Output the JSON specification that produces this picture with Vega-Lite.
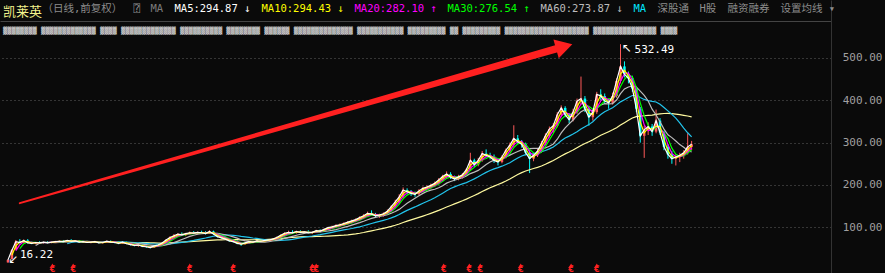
{
"$schema":"https://vega.github.io/schema/vega-lite/v6.json",
"width":831,"height":273,
"autosize":{"type":"pad"},
"padding":{"left":0,"top":0,"right":3,"bottom":0},
"background":"#0a0a0a",
"config":{"view":{"stroke":null}},
"title":{"text":"凯莱英","subtitle":"▓▓▓▓▓▓▓▓ ▓▓▓▓▓▓▓▓▓▓▓▓▓ ▓▓▓▓ ▓▓▓▓▓▓▓▓▓▓▓▓▓ ▓▓▓▓▓▓▓▓▓▓ ▓▓▓▓▓▓▓▓ ▓▓▓▓▓▓ ▓▓▓▓▓▓▓▓▓▓▓▓▓▓ ▓▓▓▓▓▓▓▓▓▓▓ ▓▓▓▓▓▓▓▓▓ ▓▓ ▓▓▓▓▓▓▓▓▓ ▓▓▓▓▓▓▓▓▓▓▓▓▓▓▓▓▓▓▓▓ ▓▓▓▓▓▓▓▓▓▓▓▓▓▓▓ ▓▓▓▓",
 "anchor":"start","frame":"group","orient":"top","offset":-34,"fontSize":13,"font":"Noto Sans CJK SC","color":"#f2f28c","fontWeight":"normal",
 "subtitleFontSize":7,"subtitleColor":"#c8c8c8","subtitleFont":"DejaVu Sans Mono","subtitleFontWeight":"normal","subtitlePadding":8,"dx":3},
"datasets":{
"k":[
{"d":0,"o":17,"h":24,"l":16.22,"c":23},{"d":1,"o":25,"h":48,"l":24,"c":46},{"d":2,"o":48,"h":70,"l":46,"c":66},{"d":3,"o":66,"h":72,"l":62,"c":64},{"d":4,"o":64,"h":71,"l":63,"c":69},{"d":5,"o":69,"h":72,"l":62,"c":63},{"d":6,"o":63,"h":66,"l":60,"c":62},{"d":7,"o":62,"h":65,"l":60,"c":64},{"d":8,"o":64,"h":67,"l":62,"c":63},{"d":9,"o":63,"h":66,"l":61,"c":65},
{"d":10,"o":65,"h":67,"l":62,"c":63},{"d":11,"o":63,"h":66,"l":62,"c":65},{"d":12,"o":65,"h":68,"l":63,"c":66},{"d":13,"o":66,"h":69,"l":64,"c":67},{"d":14,"o":67,"h":70,"l":65,"c":66},{"d":15,"o":66,"h":70,"l":65,"c":69},{"d":16,"o":69,"h":72,"l":66,"c":67},{"d":17,"o":67,"h":70,"l":65,"c":68},{"d":18,"o":68,"h":70,"l":64,"c":65},{"d":19,"o":65,"h":68,"l":63,"c":66},
{"d":20,"o":66,"h":68,"l":63,"c":64},{"d":21,"o":64,"h":67,"l":62,"c":65},{"d":22,"o":65,"h":68,"l":63,"c":66},{"d":23,"o":66,"h":67,"l":62,"c":63},{"d":24,"o":63,"h":66,"l":61,"c":64},{"d":25,"o":64,"h":68,"l":63,"c":67},{"d":26,"o":67,"h":69,"l":64,"c":65},{"d":27,"o":65,"h":67,"l":62,"c":64},{"d":28,"o":64,"h":66,"l":60,"c":62},{"d":29,"o":62,"h":67,"l":61,"c":65},
{"d":30,"o":65,"h":66,"l":60,"c":61},{"d":31,"o":61,"h":63,"l":57,"c":59},{"d":32,"o":59,"h":61,"l":55,"c":57},{"d":33,"o":57,"h":60,"l":54,"c":58},{"d":34,"o":58,"h":59,"l":53,"c":55},{"d":35,"o":55,"h":57,"l":51,"c":54},{"d":36,"o":54,"h":56,"l":50,"c":52},{"d":37,"o":52,"h":57,"l":51,"c":56},{"d":38,"o":56,"h":60,"l":54,"c":58},{"d":39,"o":58,"h":64,"l":57,"c":63},
{"d":40,"o":63,"h":72,"l":62,"c":70},{"d":41,"o":70,"h":79,"l":68,"c":76},{"d":42,"o":76,"h":84,"l":73,"c":80},{"d":43,"o":80,"h":86,"l":77,"c":84},{"d":44,"o":84,"h":88,"l":80,"c":82},{"d":45,"o":82,"h":87,"l":79,"c":85},{"d":46,"o":85,"h":90,"l":83,"c":87},{"d":47,"o":87,"h":91,"l":84,"c":86},{"d":48,"o":86,"h":90,"l":83,"c":88},{"d":49,"o":88,"h":92,"l":85,"c":87},
{"d":50,"o":87,"h":91,"l":83,"c":85},{"d":51,"o":85,"h":93,"l":84,"c":90},{"d":52,"o":90,"h":92,"l":82,"c":84},{"d":53,"o":84,"h":86,"l":76,"c":78},{"d":54,"o":78,"h":81,"l":73,"c":75},{"d":55,"o":75,"h":78,"l":70,"c":72},{"d":56,"o":72,"h":74,"l":66,"c":68},{"d":57,"o":68,"h":71,"l":64,"c":66},{"d":58,"o":66,"h":69,"l":60,"c":62},{"d":59,"o":62,"h":64,"l":56,"c":60},
{"d":60,"o":60,"h":65,"l":59,"c":63},{"d":61,"o":63,"h":67,"l":61,"c":66},{"d":62,"o":66,"h":68,"l":63,"c":65},{"d":63,"o":65,"h":69,"l":64,"c":68},{"d":64,"o":68,"h":70,"l":65,"c":67},{"d":65,"o":67,"h":71,"l":66,"c":69},{"d":66,"o":69,"h":72,"l":67,"c":70},{"d":67,"o":70,"h":74,"l":68,"c":72},{"d":68,"o":72,"h":78,"l":71,"c":76},{"d":69,"o":76,"h":83,"l":75,"c":81},
{"d":70,"o":81,"h":88,"l":79,"c":86},{"d":71,"o":86,"h":92,"l":84,"c":88},{"d":72,"o":88,"h":93,"l":85,"c":87},{"d":73,"o":87,"h":92,"l":85,"c":90},{"d":74,"o":90,"h":93,"l":86,"c":88},{"d":75,"o":88,"h":91,"l":85,"c":89},{"d":76,"o":89,"h":93,"l":86,"c":87},{"d":77,"o":87,"h":90,"l":84,"c":88},{"d":78,"o":88,"h":94,"l":87,"c":92},{"d":79,"o":92,"h":95,"l":88,"c":91},
{"d":80,"o":91,"h":97,"l":90,"c":95},{"d":81,"o":95,"h":101,"l":93,"c":99},{"d":82,"o":99,"h":104,"l":96,"c":101},{"d":83,"o":101,"h":107,"l":99,"c":104},{"d":84,"o":104,"h":109,"l":101,"c":106},{"d":85,"o":106,"h":112,"l":103,"c":109},{"d":86,"o":109,"h":115,"l":106,"c":112},{"d":87,"o":112,"h":118,"l":109,"c":115},{"d":88,"o":115,"h":121,"l":112,"c":118},{"d":89,"o":118,"h":126,"l":116,"c":123},
{"d":90,"o":123,"h":131,"l":120,"c":127},{"d":91,"o":127,"h":137,"l":125,"c":133},{"d":92,"o":133,"h":140,"l":128,"c":131},{"d":93,"o":131,"h":134,"l":124,"c":127},{"d":94,"o":127,"h":132,"l":122,"c":129},{"d":95,"o":129,"h":135,"l":125,"c":132},{"d":96,"o":132,"h":142,"l":130,"c":138},{"d":97,"o":138,"h":152,"l":136,"c":149},{"d":98,"o":149,"h":165,"l":146,"c":160},{"d":99,"o":160,"h":178,"l":156,"c":172},
{"d":100,"o":172,"h":194,"l":168,"c":188},{"d":101,"o":188,"h":192,"l":178,"c":184},{"d":102,"o":184,"h":188,"l":174,"c":180},{"d":103,"o":180,"h":184,"l":172,"c":178},{"d":104,"o":178,"h":190,"l":176,"c":186},{"d":105,"o":186,"h":196,"l":183,"c":192},{"d":106,"o":192,"h":199,"l":188,"c":195},{"d":107,"o":195,"h":203,"l":191,"c":199},{"d":108,"o":199,"h":208,"l":195,"c":204},{"d":109,"o":204,"h":216,"l":201,"c":212},
{"d":110,"o":212,"h":224,"l":208,"c":220},{"d":111,"o":220,"h":232,"l":216,"c":226},{"d":112,"o":226,"h":230,"l":214,"c":218},{"d":113,"o":218,"h":222,"l":209,"c":214},{"d":114,"o":214,"h":224,"l":211,"c":219},{"d":115,"o":219,"h":228,"l":215,"c":224},{"d":116,"o":224,"h":240,"l":221,"c":236},{"d":117,"o":236,"h":276,"l":234,"c":258},{"d":118,"o":258,"h":262,"l":242,"c":248},{"d":119,"o":248,"h":264,"l":244,"c":258},
{"d":120,"o":258,"h":280,"l":255,"c":274},{"d":121,"o":274,"h":284,"l":265,"c":270},{"d":122,"o":270,"h":276,"l":260,"c":266},{"d":123,"o":266,"h":272,"l":252,"c":258},{"d":124,"o":258,"h":262,"l":246,"c":254},{"d":125,"o":254,"h":270,"l":251,"c":266},{"d":126,"o":266,"h":286,"l":263,"c":282},{"d":127,"o":282,"h":300,"l":278,"c":294},{"d":128,"o":294,"h":341,"l":290,"c":310},{"d":129,"o":310,"h":318,"l":296,"c":302},
{"d":130,"o":302,"h":306,"l":288,"c":296},{"d":131,"o":296,"h":300,"l":270,"c":276},{"d":132,"o":276,"h":282,"l":228,"c":262},{"d":133,"o":262,"h":276,"l":256,"c":270},{"d":134,"o":270,"h":286,"l":266,"c":280},{"d":135,"o":280,"h":304,"l":276,"c":298},{"d":136,"o":298,"h":322,"l":294,"c":316},{"d":137,"o":316,"h":338,"l":312,"c":332},{"d":138,"o":332,"h":346,"l":322,"c":340},{"d":139,"o":340,"h":372,"l":336,"c":366},
{"d":140,"o":366,"h":388,"l":360,"c":382},{"d":141,"o":382,"h":386,"l":360,"c":366},{"d":142,"o":366,"h":370,"l":346,"c":354},{"d":143,"o":354,"h":380,"l":350,"c":372},{"d":144,"o":372,"h":404,"l":368,"c":398},{"d":145,"o":398,"h":456,"l":390,"c":404},{"d":146,"o":404,"h":410,"l":372,"c":380},{"d":147,"o":380,"h":384,"l":340,"c":360},{"d":148,"o":360,"h":380,"l":352,"c":372},{"d":149,"o":372,"h":420,"l":368,"c":414},
{"d":150,"o":414,"h":426,"l":400,"c":410},{"d":151,"o":410,"h":416,"l":392,"c":398},{"d":152,"o":398,"h":404,"l":380,"c":394},{"d":153,"o":394,"h":418,"l":390,"c":410},{"d":154,"o":410,"h":452,"l":406,"c":446},{"d":155,"o":446,"h":532.49,"l":440,"c":480},{"d":156,"o":480,"h":492,"l":454,"c":462},{"d":157,"o":462,"h":468,"l":440,"c":452},{"d":158,"o":452,"h":458,"l":420,"c":428},{"d":159,"o":428,"h":432,"l":372,"c":380},
{"d":160,"o":380,"h":384,"l":300,"c":316},{"d":161,"o":316,"h":340,"l":264,"c":330},{"d":162,"o":330,"h":348,"l":318,"c":338},{"d":163,"o":338,"h":344,"l":316,"c":326},{"d":164,"o":326,"h":378,"l":322,"c":352},{"d":165,"o":352,"h":358,"l":318,"c":324},{"d":166,"o":324,"h":328,"l":282,"c":290},{"d":167,"o":290,"h":296,"l":262,"c":272},{"d":168,"o":272,"h":280,"l":250,"c":262},{"d":169,"o":262,"h":272,"l":246,"c":266},
{"d":170,"o":266,"h":276,"l":254,"c":270},{"d":171,"o":270,"h":282,"l":262,"c":276},{"d":172,"o":276,"h":322,"l":272,"c":290},{"d":173,"o":290,"h":304,"l":282,"c":296}
],
"ev":[{"d":11.25},{"d":16.5},{"d":46},{"d":57},{"d":77},{"d":78},{"d":110.25},{"d":116.75},{"d":119.5},{"d":129.75},{"d":142.5},{"d":149}],
"arrow":[{"d":3,"p":157},{"d":140,"p":525}],
"head":[{"d":140.75,"p":526.8}]
},
"resolve":{"axis":{"y":"independent"},"legend":{"color":"independent"}},
"encoding":{
  "x":{"field":"d","type":"quantitative","scale":{"domain":[-0.75,207],"nice":false,"zero":false},
       "axis":{"orient":"top","offset":-21,"labels":false,"ticks":false,"grid":false,"domainColor":"#444444","title":null}}
},
"layer":[
{"data":{"name":"k"},"mark":{"type":"rule","strokeWidth":1},
 "encoding":{
  "y":{"field":"l","type":"quantitative","scale":{"domain":[-8.03,636.9],"nice":false,"zero":false},
       "axis":{"orient":"right","values":[100,200,300,400,500],"format":".2f","ticks":false,"labelPadding":51,"labelAlign":"right","labelBaseline":"middle","labelColor":"#a0a0a0","labelFont":"DejaVu Sans Mono","labelFontSize":11,"grid":true,"gridColor":"#606060","gridDash":[1,3],"domainColor":"#333333","title":null}},
  "y2":{"field":"h"},
  "color":{"condition":{"test":"datum.c>=datum.o","value":"#ff5a5a"},"value":"#00ffff"}}},
{"data":{"name":"k"},"mark":{"type":"bar","width":2.5},
 "encoding":{"y":{"field":"o","type":"quantitative","axis":null},"y2":{"field":"c"},
  "color":{"condition":{"test":"datum.c>=datum.o","value":"#ff5a5a"},"value":"#00ffff"}}},
{"data":{"name":"k"},"transform":[{"window":[{"op":"mean","field":"c","as":"ma"},{"op":"count","as":"n"}],"frame":[-33,0],"sort":[{"field":"d"}]},{"filter":"datum.n>=34"}],
 "mark":{"type":"line","strokeWidth":1.2},
 "encoding":{"y":{"field":"ma","type":"quantitative","axis":null},
  "color":{"datum":"MA250","type":"nominal",
   "scale":{"domain":["（日线,前复权）","⍰","MAg","MA5","MA10","MA20","MA30","MA60","MAc","深股通","H股","融资融券","设置均线","MA120","MA250"],
            "range":["#8c8c8c","#8c8c8c","#7c7c7c","#ffffff","#ffff00","#ff00ff","#00ff00","#bcbcbc","#00e5ff","#8c8c8c","#8c8c8c","#8c8c8c","#8c8c8c","#22c4ec","#fffaa0"]},
   "legend":{"values":["（日线,前复权）","⍰","MAg","MA5","MA10","MA20","MA30","MA60","MAc","深股通","H股","融资融券","设置均线"],
     "orient":"none","legendX":32,"legendY":4,"direction":"horizontal","columns":13,"title":null,
     "symbolSize":1,"symbolOpacity":0,"symbolStrokeWidth":0,"labelOffset":0,"columnPadding":-7,
     "labelFont":"DejaVu Sans Mono, Noto Sans CJK SC","labelFontSize":10.5,"labelLimit":300,"labelColor":"#8c8c8c",
     "labelExpr":"datum.value=='MA5'?'MA5:294.87 ↓':datum.value=='MA10'?'MA10:294.43 ↓':datum.value=='MA20'?'MA20:282.10 ↑':datum.value=='MA30'?'MA30:276.54 ↑':datum.value=='MA60'?'MA60:273.87 ↓':(datum.value=='MAg'||datum.value=='MAc')?'MA':datum.value=='融资融券'?'\u00a0\u00a0融资融券':datum.value=='设置均线'?'\u00a0\u00a0设置均线 ▾':datum.value",
     "encode":{"labels":{"update":{"fill":{"scale":"color","field":"value"}}}}}}}},
{"data":{"name":"k"},"transform":[{"window":[{"op":"mean","field":"c","as":"ma"},{"op":"count","as":"n"}],"frame":[-15,0],"sort":[{"field":"d"}]},{"filter":"datum.n>=16"}],
 "mark":{"type":"line","strokeWidth":1.2},
 "encoding":{"y":{"field":"ma","type":"quantitative","axis":null},"color":{"datum":"MA120","type":"nominal","legend":null}}},
{"data":{"name":"k"},"transform":[{"window":[{"op":"mean","field":"c","as":"ma"},{"op":"count","as":"n"}],"frame":[-7,0],"sort":[{"field":"d"}]},{"filter":"datum.n>=8"}],
 "mark":{"type":"line","strokeWidth":1.2},
 "encoding":{"y":{"field":"ma","type":"quantitative","axis":null},"color":{"datum":"MA60","type":"nominal","legend":null}}},
{"data":{"name":"k"},"transform":[{"window":[{"op":"mean","field":"c","as":"ma"},{"op":"count","as":"n"}],"frame":[-3,0],"sort":[{"field":"d"}]},{"filter":"datum.n>=4"}],
 "mark":{"type":"line","strokeWidth":1.2},
 "encoding":{"y":{"field":"ma","type":"quantitative","axis":null},"color":{"datum":"MA30","type":"nominal","legend":null}}},
{"data":{"name":"k"},"transform":[{"window":[{"op":"mean","field":"c","as":"ma"},{"op":"count","as":"n"}],"frame":[-2,0],"sort":[{"field":"d"}]},{"filter":"datum.n>=3"}],
 "mark":{"type":"line","strokeWidth":1.2},
 "encoding":{"y":{"field":"ma","type":"quantitative","axis":null},"color":{"datum":"MA20","type":"nominal","legend":null}}},
{"data":{"name":"k"},"transform":[{"window":[{"op":"mean","field":"c","as":"ma"},{"op":"count","as":"n"}],"frame":[-1,0],"sort":[{"field":"d"}]},{"filter":"datum.n>=2"}],
 "mark":{"type":"line","strokeWidth":1.2},
 "encoding":{"y":{"field":"ma","type":"quantitative","axis":null},"color":{"datum":"MA10","type":"nominal","legend":null}}},
{"data":{"name":"k"},
 "mark":{"type":"line","strokeWidth":1.2},
 "encoding":{"y":{"field":"c","type":"quantitative","axis":null},"color":{"datum":"MA5","type":"nominal","legend":null}}},
{"data":{"name":"arrow"},"mark":{"type":"trail","color":"#ff2020"},
 "encoding":{"y":{"field":"p","type":"quantitative","axis":null},
  "size":{"field":"d","type":"quantitative","scale":{"domain":[3,140],"range":[2,7.5]},"legend":null}}},
{"data":{"name":"head"},"mark":{"type":"point","shape":"triangle-right","filled":true,"size":380,"angle":-15.8,"color":"#ff2020","opacity":1},
 "encoding":{"y":{"field":"p","type":"quantitative","axis":null}}},
{"data":{"name":"ev"},"mark":{"type":"point","shape":"triangle-up","filled":true,"size":22,"color":"#ff2020","opacity":1},
 "encoding":{"y":{"datum":9.5,"type":"quantitative","axis":null}}},
{"data":{"name":"ev"},"mark":{"type":"text","text":"€","fontSize":8,"fontWeight":"bold","color":"#ff2020","baseline":"middle","font":"DejaVu Sans"},
 "encoding":{"y":{"datum":0,"type":"quantitative","axis":null}}},
{"data":{"name":"k"},"transform":[{"filter":"datum.d==155"}],
 "mark":{"type":"text","align":"left","baseline":"middle","dx":14,"dy":6,"color":"#ffffff","font":"DejaVu Sans Mono","fontSize":11},
 "encoding":{"y":{"field":"h","type":"quantitative","axis":null},"text":{"field":"h","type":"quantitative","format":".2f"}}},
{"data":{"name":"k"},"transform":[{"filter":"datum.d==155"}],
 "mark":{"type":"text","text":"↖","align":"left","baseline":"middle","dx":1,"dy":4,"color":"#ffffff","font":"DejaVu Sans","fontSize":12},
 "encoding":{"y":{"field":"h","type":"quantitative","axis":null}}},
{"data":{"name":"k"},"transform":[{"filter":"datum.d==0"}],
 "mark":{"type":"text","align":"left","baseline":"middle","dx":12,"dy":-8,"color":"#ffffff","font":"DejaVu Sans Mono","fontSize":11},
 "encoding":{"y":{"field":"l","type":"quantitative","axis":null},"text":{"field":"l","type":"quantitative","format":".2f"}}},
{"data":{"name":"k"},"transform":[{"filter":"datum.d==0"}],
 "mark":{"type":"text","text":"↙","align":"left","baseline":"middle","dx":0,"dy":-4,"color":"#ffffff","font":"DejaVu Sans","fontSize":12},
 "encoding":{"y":{"field":"l","type":"quantitative","axis":null}}}
]
}
